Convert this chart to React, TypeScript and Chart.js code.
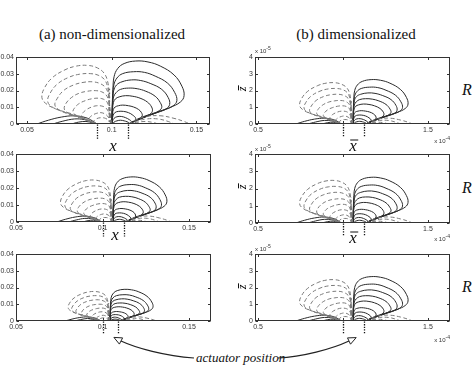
import React, { useEffect, useRef } from "react";
import { Chart, registerables } from "chart.js";

Chart.register(...registerables);

type P = [number, number];

// Contour shapes, normalised: u = offset from lobe centre / lobe half-width, v = height / lobe height
const solidLobe: P[][] = [
  [[0,0],[0.005,0.3],[0.014,0.55],[0.03,0.75],[0.08,0.88],[0.17,0.96],[0.33,1.0],[0.5,0.985],[0.67,0.92],[0.86,0.78],[0.97,0.6],[1.0,0.45],[0.95,0.35],[0.8,0.26],[0.6,0.18],[0.4,0.1],[0.23,0]],
  [[0,0],[0.005,0.25],[0.013,0.46],[0.027,0.62],[0.07,0.73],[0.15,0.8],[0.3,0.83],[0.45,0.82],[0.6,0.76],[0.77,0.65],[0.87,0.5],[0.9,0.37],[0.85,0.29],[0.72,0.22],[0.55,0.15],[0.38,0.08],[0.23,0]],
  [[0,0],[0.005,0.21],[0.012,0.39],[0.025,0.53],[0.065,0.62],[0.14,0.67],[0.27,0.7],[0.4,0.69],[0.54,0.64],[0.69,0.55],[0.78,0.42],[0.8,0.31],[0.75,0.24],[0.64,0.19],[0.5,0.13],[0.36,0.07],[0.23,0]],
  [[0,0],[0.005,0.17],[0.011,0.31],[0.023,0.43],[0.06,0.5],[0.12,0.55],[0.23,0.57],[0.35,0.56],[0.47,0.52],[0.6,0.44],[0.67,0.34],[0.69,0.26],[0.64,0.2],[0.55,0.15],[0.44,0.1],[0.33,0.05],[0.23,0]],
  [[0,0],[0.005,0.14],[0.01,0.25],[0.02,0.34],[0.05,0.4],[0.1,0.43],[0.19,0.45],[0.29,0.44],[0.39,0.41],[0.49,0.35],[0.55,0.27],[0.56,0.2],[0.52,0.15],[0.45,0.11],[0.37,0.07],[0.3,0.035],[0.23,0]],
  [[0,0],[0.005,0.09],[0.01,0.17],[0.02,0.23],[0.045,0.27],[0.09,0.29],[0.15,0.3],[0.23,0.29],[0.3,0.27],[0.37,0.23],[0.41,0.18],[0.42,0.13],[0.39,0.09],[0.34,0.06],[0.29,0.03],[0.23,0]],
  [[0,0],[0.006,0.07],[0.015,0.13],[0.04,0.18],[0.09,0.2],[0.16,0.2],[0.23,0.18],[0.29,0.14],[0.33,0.09],[0.31,0.05],[0.27,0.02],[0.23,0]],
  [[0,0],[0.01,0.05],[0.03,0.09],[0.07,0.115],[0.13,0.12],[0.19,0.1],[0.24,0.07],[0.27,0.04],[0.25,0.015],[0.23,0]],
  [[0.01,0],[0.03,0.03],[0.07,0.05],[0.12,0.06],[0.17,0.05],[0.21,0.035],[0.24,0.015],[0.23,0]],
];

const dashedLobe: P[][] = [
  [[-0.01,0],[-0.03,0.28],[-0.04,0.5],[-0.06,0.68],[-0.11,0.81],[-0.2,0.89],[-0.33,0.93],[-0.49,0.92],[-0.65,0.86],[-0.83,0.73],[-0.94,0.56],[-0.97,0.42],[-0.92,0.33],[-0.78,0.24],[-0.58,0.17],[-0.38,0.09],[-0.21,0]],
  [[-0.01,0],[-0.03,0.24],[-0.04,0.43],[-0.06,0.59],[-0.1,0.7],[-0.18,0.77],[-0.3,0.8],[-0.45,0.79],[-0.6,0.74],[-0.76,0.63],[-0.86,0.48],[-0.89,0.36],[-0.84,0.28],[-0.71,0.21],[-0.53,0.14],[-0.36,0.08],[-0.21,0]],
  [[-0.01,0],[-0.03,0.2],[-0.04,0.36],[-0.055,0.49],[-0.09,0.58],[-0.16,0.64],[-0.27,0.67],[-0.4,0.66],[-0.53,0.62],[-0.67,0.53],[-0.76,0.4],[-0.79,0.3],[-0.74,0.23],[-0.63,0.17],[-0.48,0.12],[-0.34,0.06],[-0.21,0]],
  [[-0.01,0],[-0.03,0.16],[-0.04,0.29],[-0.05,0.39],[-0.08,0.46],[-0.14,0.51],[-0.23,0.53],[-0.34,0.52],[-0.45,0.49],[-0.56,0.42],[-0.64,0.32],[-0.66,0.24],[-0.62,0.18],[-0.53,0.13],[-0.42,0.09],[-0.31,0.045],[-0.21,0]],
  [[-0.01,0],[-0.03,0.12],[-0.04,0.22],[-0.05,0.3],[-0.075,0.36],[-0.12,0.395],[-0.19,0.41],[-0.28,0.4],[-0.37,0.37],[-0.46,0.32],[-0.52,0.25],[-0.54,0.19],[-0.5,0.14],[-0.43,0.1],[-0.35,0.06],[-0.28,0.03],[-0.21,0]],
  [[-0.01,0],[-0.03,0.09],[-0.04,0.16],[-0.06,0.22],[-0.09,0.26],[-0.14,0.285],[-0.21,0.29],[-0.28,0.27],[-0.35,0.23],[-0.4,0.18],[-0.42,0.13],[-0.39,0.09],[-0.33,0.05],[-0.27,0.025],[-0.21,0]],
  [[-0.01,0],[-0.03,0.06],[-0.05,0.11],[-0.09,0.155],[-0.15,0.18],[-0.21,0.17],[-0.27,0.14],[-0.31,0.1],[-0.32,0.06],[-0.28,0.03],[-0.21,0]],
  [[-0.01,0],[-0.04,0.05],[-0.09,0.09],[-0.15,0.1],[-0.21,0.085],[-0.25,0.05],[-0.24,0.02],[-0.21,0]],
];

const solidFoot: P[][] = [
  [[-1.04,0],[-0.88,0.06],[-0.7,0.11],[-0.52,0.13],[-0.36,0.1],[-0.27,0.05],[-0.21,0]],
  [[-0.82,0],[-0.68,0.045],[-0.52,0.08],[-0.38,0.07],[-0.28,0.035],[-0.21,0]],
  [[-0.56,0],[-0.46,0.03],[-0.36,0.04],[-0.27,0.02],[-0.21,0]],
];

const dashedFoot: P[][] = [
  [[0.23,0],[0.32,0.06],[0.48,0.12],[0.68,0.13],[0.86,0.09],[1.0,0.04],[1.08,0]],
  [[0.23,0],[0.33,0.04],[0.48,0.08],[0.64,0.08],[0.78,0.04],[0.86,0]],
  [[0.23,0],[0.34,0.025],[0.46,0.04],[0.57,0.025],[0.64,0]],
];

const centreLabelMarks: P[] = [[-0.035, 0.03], [-0.035, 0.56]];

// Axes
const xTicksA = [0.05, 0.1, 0.15];
const xTickLabelsA = ["0.05", "0.1", "0.15"];
const yTicksA = [0, 0.01, 0.02, 0.03, 0.04];
const yTickLabelsA = ["0", "0.01", "0.02", "0.03", "0.04"];
const xTicksB = [0.5, 1, 1.5];
const xTickLabelsB = ["0.5", "", "1.5"];
const yTicksB = [0, 1, 2, 3, 4];
const yTickLabelsB = ["0", "1", "2", "3", "4"];

const xRangesA: P[] = [[0.0435, 0.158], [0.05, 0.1627], [0.05, 0.1627]];
const xRangeB: P = [0.482, 1.63];
const yMaxA = 0.04;
const yMaxB = 4;

// Lobe centre / half-width / height per panel (data units)
const lobeCentresA = [0.1001, 0.106, 0.1043];
const lobeWidthsA = [0.0426, 0.0312, 0.0249];
const lobeHeightsA = [0.0376, 0.0265, 0.0189];
const lobeCentreB = 1.059;
const lobeWidthB = 0.324;
const lobeHeightB = 2.65;

// actuator positions (dotted markers)
const actuatorA: P[] = [[0.0912, 0.1094], [0.1003, 0.1124], [0.1003, 0.109]];
const actuatorB: P = [1.0, 1.124];

const SOLID = "#2a2a2a";
const DASH = "#7a7a7a";
const TICK_FONT = { family: "'Liberation Sans', Arial, sans-serif", size: 7 };

type Spec = {
  rect: number[];
  padL: number;
  xRange: P;
  yMax: number;
  xTicks: number[];
  xLabels: string[];
  yTicks: number[];
  yLabels: string[];
  cx: number;
  w: number;
  h: number;
  act: P;
  actLen: number;
};

const PAD_T = 8, PAD_R = 8, PAD_B = 22;

const specs: Spec[] = [
  { rect: [16, 57, 210, 124], padL: 16, xRange: xRangesA[0], yMax: yMaxA, xTicks: xTicksA, xLabels: xTickLabelsA, yTicks: yTicksA, yLabels: yTickLabelsA, cx: lobeCentresA[0], w: lobeWidthsA[0], h: lobeHeightsA[0], act: actuatorA[0], actLen: 16 },
  { rect: [16, 154, 211, 222], padL: 16, xRange: xRangesA[1], yMax: yMaxA, xTicks: xTicksA, xLabels: xTickLabelsA, yTicks: yTicksA, yLabels: yTickLabelsA, cx: lobeCentresA[1], w: lobeWidthsA[1], h: lobeHeightsA[1], act: actuatorA[1], actLen: 15 },
  { rect: [16, 254, 211, 321], padL: 16, xRange: xRangesA[2], yMax: yMaxA, xTicks: xTicksA, xLabels: xTickLabelsA, yTicks: yTicksA, yLabels: yTickLabelsA, cx: lobeCentresA[2], w: lobeWidthsA[2], h: lobeHeightsA[2], act: actuatorA[2], actLen: 13 },
  { rect: [255, 57, 450, 124], padL: 18, xRange: xRangeB, yMax: yMaxB, xTicks: xTicksB, xLabels: xTickLabelsB, yTicks: yTicksB, yLabels: yTickLabelsB, cx: lobeCentreB, w: lobeWidthB, h: lobeHeightB, act: actuatorB, actLen: 14 },
  { rect: [255, 154, 450, 223], padL: 18, xRange: xRangeB, yMax: yMaxB, xTicks: xTicksB, xLabels: xTickLabelsB, yTicks: yTicksB, yLabels: yTickLabelsB, cx: lobeCentreB, w: lobeWidthB, h: lobeHeightB, act: actuatorB, actLen: 14 },
  { rect: [255, 254, 450, 321], padL: 18, xRange: xRangeB, yMax: yMaxB, xTicks: xTicksB, xLabels: xTickLabelsB, yTicks: yTicksB, yLabels: yTickLabelsB, cx: lobeCentreB, w: lobeWidthB, h: lobeHeightB, act: actuatorB, actLen: 14 },
];

function Panel({ spec }: { spec: Spec }) {
  const ref = useRef<HTMLCanvasElement>(null);
  const [l, t, r, b] = spec.rect;
  const W = r - l + spec.padL + PAD_R;
  const H = b - t + PAD_T + PAD_B;

  useEffect(() => {
    const s = spec;
    const toPts = (shape: P[]) => shape.map(([u, v]) => ({ x: s.cx + u * s.w, y: v * s.h }));
    const solid = (shape: P[]) => ({
      data: toPts(shape), showLine: true, borderColor: SOLID, borderWidth: 1,
      pointRadius: 0, tension: 0.4, fill: false,
    });
    const dashed = (shape: P[]) => ({
      data: toPts(shape), showLine: true, borderColor: DASH, borderWidth: 1,
      borderDash: [4, 2.5], pointRadius: 0, tension: 0.4, fill: false,
    });
    const marks = {
      data: toPts(centreLabelMarks), showLine: true, borderColor: "#666", borderWidth: 1.5,
      borderDash: [1.5, 2.5], pointRadius: 0, tension: 0, fill: false,
    };
    const datasets: any[] = [
      ...dashedLobe.map(dashed),
      ...dashedFoot.map(dashed),
      ...solidLobe.map(solid),
      ...solidFoot.map(solid),
      marks,
    ];

    const frame = {
      id: "frame",
      afterDatasetsDraw(chart: any) {
        const { ctx, chartArea: a, scales } = chart;
        const x0 = Math.round(a.left) + 0.5, x1 = Math.round(a.right) - 0.5;
        const y0 = Math.round(a.top) + 0.5, y1 = Math.round(a.bottom) - 0.5;
        ctx.save();
        ctx.setLineDash([]);
        ctx.strokeStyle = "#333";
        ctx.lineWidth = 1;
        ctx.strokeRect(x0, y0, x1 - x0, y1 - y0);
        ctx.beginPath();
        for (const v of s.xTicks) {
          const px = Math.round(scales.x.getPixelForValue(v)) + 0.5;
          ctx.moveTo(px, y1); ctx.lineTo(px, y1 - 2.5);
          ctx.moveTo(px, y0); ctx.lineTo(px, y0 + 2.5);
        }
        for (const v of s.yTicks) {
          const py = Math.round(scales.y.getPixelForValue(v)) + 0.5;
          ctx.moveTo(x0, py); ctx.lineTo(x0 + 2.5, py);
          ctx.moveTo(x1, py); ctx.lineTo(x1 - 2.5, py);
        }
        ctx.stroke();
        ctx.strokeStyle = "#111";
        ctx.lineWidth = 1.3;
        ctx.setLineDash([1.3, 1.3]);
        ctx.beginPath();
        for (const v of s.act) {
          const px = Math.round(scales.x.getPixelForValue(v)) + 0.5;
          ctx.moveTo(px, y1 + 1); ctx.lineTo(px, y1 + s.actLen);
        }
        ctx.stroke();
        ctx.restore();
      },
    };

    const chart = new Chart(ref.current as HTMLCanvasElement, {
      type: "scatter",
      data: { datasets },
      options: {
        animation: false,
        responsive: false,
        maintainAspectRatio: false,
        events: [],
        layout: { padding: { top: PAD_T, right: PAD_R, left: 0, bottom: 0 } },
        plugins: { legend: { display: false }, tooltip: { enabled: false } },
        scales: {
          x: {
            type: "linear", min: s.xRange[0], max: s.xRange[1],
            grid: { display: false, drawTicks: false },
            border: { display: false },
            ticks: {
              font: TICK_FONT, color: "#333", padding: 2, maxRotation: 0, autoSkip: false,
              callback: (_v: any, i: number) => s.xLabels[i],
            },
            afterBuildTicks: (sc: any) => { sc.ticks = s.xTicks.map((v) => ({ value: v })); },
            afterFit: (sc: any) => { sc.height = PAD_B; },
          },
          y: {
            type: "linear", min: 0, max: s.yMax,
            grid: { display: false, drawTicks: false },
            border: { display: false },
            ticks: {
              font: TICK_FONT, color: "#333", padding: 2, autoSkip: false,
              callback: (_v: any, i: number) => s.yLabels[i],
            },
            afterBuildTicks: (sc: any) => { sc.ticks = s.yTicks.map((v) => ({ value: v })); },
            afterFit: (sc: any) => { sc.width = s.padL; },
          },
        },
      } as any,
      plugins: [frame],
    });
    return () => chart.destroy();
  }, [spec]);

  return (
    <canvas
      ref={ref}
      width={W}
      height={H}
      style={{ position: "absolute", left: l - spec.padL, top: t - PAD_T, width: W, height: H }}
    />
  );
}

const SERIF = "'Liberation Serif', 'Times New Roman', serif";
const SANS = "'Liberation Sans', Arial, sans-serif";

function T({ x, y, anchor = "c", style, children }: any) {
  const tx = anchor === "c" ? "-50%" : anchor === "r" ? "-100%" : "0";
  return (
    <div
      style={{
        position: "absolute", left: x, top: y, transform: `translate(${tx}, -50%)`,
        whiteSpace: "nowrap", lineHeight: 1, color: "#111", ...style,
      }}
    >
      {children}
    </div>
  );
}

function Bar({ children, top = 2 }: any) {
  return (
    <span style={{ position: "relative", display: "inline-block" }}>
      {children}
      <span style={{ position: "absolute", left: 1, right: -1, top, borderTop: "1px solid #111" }} />
    </span>
  );
}

export default function App() {
  const italic = { fontFamily: SERIF, fontStyle: "italic" };
  const tiny = { fontFamily: SANS, fontSize: 6, color: "#333" };
  return (
    <div style={{ position: "fixed", left: 0, top: 0, width: 474, height: 383, background: "#fff", overflow: "hidden" }}>
      {specs.map((s, i) => <Panel key={i} spec={s} />)}

      <T x={112} y={34} style={{ fontFamily: SERIF, fontSize: 15 }}>(a) non-dimensionalized</T>
      <T x={356} y={34} style={{ fontFamily: SERIF, fontSize: 15 }}>(b) dimensionalized</T>

      <T x={113} y={145} style={{ ...italic, fontSize: 17 }}>x</T>
      <T x={115} y={234} style={{ ...italic, fontSize: 17 }}>x</T>
      <T x={353} y={145} style={{ ...italic, fontSize: 17 }}><Bar top={3}>x</Bar></T>
      <T x={353} y={237} style={{ ...italic, fontSize: 17 }}><Bar top={3}>x</Bar></T>

      {[89, 187, 287].map((y) => (
        <div key={y} style={{ position: "absolute", left: 242, top: y, transform: "translate(-50%, -50%) rotate(-90deg)", ...italic, fontSize: 12, lineHeight: 1 }}>
          <Bar top={2}>z</Bar>
        </div>
      ))}
      {[90, 188, 287].map((y) => (
        <T key={y} x={462} y={y} anchor="l" style={{ ...italic, fontSize: 16 }}>R</T>
      ))}

      {[50, 148, 248].map((y) => (
        <T key={y} x={255} y={y} anchor="l" style={tiny}>x 10<sup style={{ fontSize: 5 }}>-5</sup></T>
      ))}
      {[140, 238, 339].map((y) => (
        <T key={y} x={450} y={y} anchor="r" style={tiny}>x 10<sup style={{ fontSize: 5 }}>-4</sup></T>
      ))}

      <T x={196} y={357} anchor="l" style={{ ...italic, fontSize: 13 }}>actuator position</T>

      <svg width={474} height={383} style={{ position: "absolute", left: 0, top: 0, pointerEvents: "none" }}>
        <path d="M194 358 C165 356 136 348 121 341" stroke="#222" strokeWidth={1.2} fill="none" />
        <polygon points="113.9,337.4 122.6,337.9 119.4,344.1" fill="#fff" stroke="#222" strokeWidth={1} />
        <path d="M278 358 C302 357 332 349 349 341" stroke="#222" strokeWidth={1.2} fill="none" />
        <polygon points="356.2,337.6 350.5,344.2 347.5,337.9" fill="#fff" stroke="#222" strokeWidth={1} />
      </svg>
    </div>
  );
}
